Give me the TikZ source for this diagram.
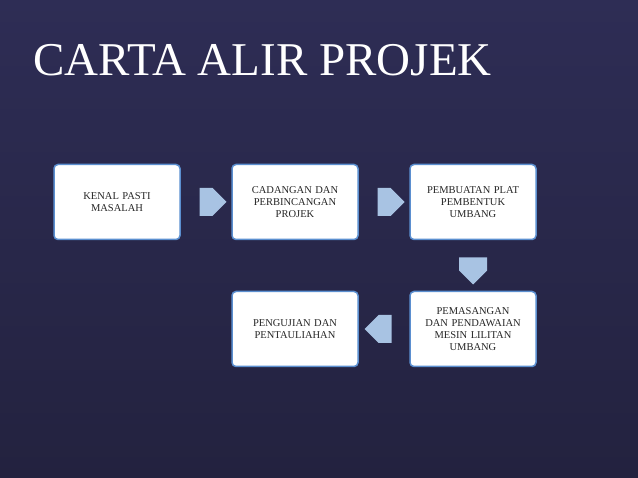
\documentclass[tikz,border=0pt]{standalone}
\usepackage{fontspec}
\setmainfont{Liberation Serif}
\usetikzlibrary{shapes.arrows}
\definecolor{bgA}{HTML}{2E2D55}
\definecolor{bgB}{HTML}{23223F}
\definecolor{bord}{HTML}{5B8FD0}
\definecolor{arr}{HTML}{A8C3E3}
\tikzset{
  box/.style={draw=bord, line width=1.5pt, fill=white, rounded corners=4pt, minimum width=126pt, minimum height=75pt, text width=118pt, align=center, font=\fontsize{10.5}{12}\selectfont, text=black!85},
  blk/.style={single arrow, fill=arr, draw=none, minimum height=27pt, minimum width=28pt, single arrow head extend=0pt, inner sep=3.5pt}
}
\begin{document}
\begin{tikzpicture}[x=1pt,y=-1pt]
\shade[top color=bgA, bottom color=bgB] (0,0) rectangle (638,478);
\useasboundingbox (0,0) rectangle (638,478);
\node[anchor=west, text=white, font=\fontsize{47}{50}\selectfont] (title) at (30,60) {CARTA ALIR PROJEK};
\node[box] (b1) at (117,202) {KENAL PASTI\\MASALAH};
\node[box] (b2) at (295,202) {CADANGAN DAN\\PERBINCANGAN\\PROJEK};
\node[box] (b3) at (473,202) {PEMBUATAN PLAT\\PEMBENTUK\\UMBANG};
\node[box] (b4) at (473,329) {PEMASANGAN\\DAN PENDAWAIAN\\MESIN LILITAN\\UMBANG};
\node[box] (b5) at (295,329) {PENGUJIAN DAN\\PENTAULIAHAN\\[10pt]};
\node[blk] (a1) at (206,202) {};
\node[blk] (a2) at (384,202) {};
\node[blk, shape border rotate=270] (a3) at (473,264) {};
\node[blk, shape border rotate=180] (a4) at (385,329) {};
\end{tikzpicture}
\end{document}
